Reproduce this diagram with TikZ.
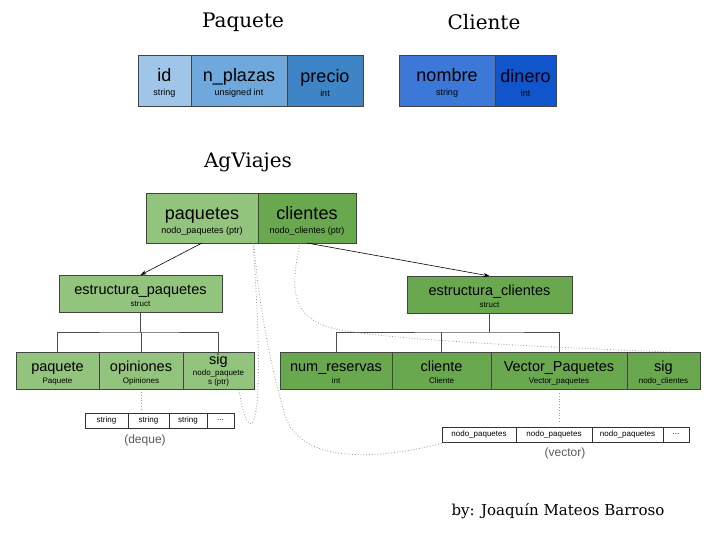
\documentclass[tikz,border=0pt]{standalone}
\usepackage{fontspec}
\setmainfont{Liberation Sans}
\newfontfamily\titulofont{DejaVu Serif}
\usetikzlibrary{positioning,arrows.meta}

\definecolor{azulA}{HTML}{9FC5E8}
\definecolor{azulB}{HTML}{6FA8DC}
\definecolor{azulC}{HTML}{3D85C6}
\definecolor{azulD}{HTML}{3C78D8}
\definecolor{azulE}{HTML}{1155CC}
\definecolor{verdeA}{HTML}{93C47D}
\definecolor{verdeB}{HTML}{6AA84F}
\definecolor{borde}{HTML}{434343}
\definecolor{punto}{HTML}{8FA382}

% campo con nombre y tipo
\newcommand{\campog}[2]{\rule{0pt}{18.5pt}#1\\{\fontsize{9}{10}\selectfont #2}}
\newcommand{\campo}[2]{\rule{0pt}{15pt}#1\\{\fontsize{8}{9}\selectfont #2}}

\tikzset{
  celda/.style={draw=borde, line width=0.8pt, inner sep=0pt, outer sep=0pt, align=center},
  grande/.style={celda, minimum height=51pt, font=\fontsize{18}{14}\selectfont},
  media/.style={celda, minimum height=37pt, font=\fontsize{14.5}{12}\selectfont},
  lista/.style={celda, draw=black!80, line width=0.6pt, minimum height=15pt, font=\fontsize{8}{9}\selectfont},
  titulo/.style={font=\titulofont\fontsize{20}{24}\selectfont},
  nota/.style={font=\fontsize{12}{14}\selectfont, text=black!65},
  puntos/.style={dotted, line width=0.8pt, draw=punto},
  rama/.style={draw=black!70, line width=0.6pt},
  flecha/.style={-{Stealth[length=6pt,width=4pt]}, line width=0.6pt}
}

\begin{document}
\begin{tikzpicture}[x=1pt,y=-1pt]
\useasboundingbox (0,0) rectangle (712,551);

% Paquete
\node[titulo] (tpaquete) at (243,22) {Paquete};
\node[grande, fill=azulA, minimum width=53pt, anchor=north west] (id) at (138,55) {\campog{id}{string}};
\node[grande, fill=azulB, minimum width=96pt, right=0pt of id] (nplazas) {\campog{n\_plazas}{unsigned int}};
\node[grande, fill=azulC, minimum width=76pt, right=0pt of nplazas] (precio) {\campog{precio}{int}};

% Cliente
\node[titulo] (tcliente) at (484,22) {Cliente};
\node[grande, fill=azulD, minimum width=96pt, anchor=north west] (nombre) at (399,55) {\campog{nombre}{string}};
\node[grande, fill=azulE, minimum width=61pt, right=0pt of nombre] (dinero) {\campog{dinero}{int}};

% AgViajes
\node[titulo] (tagviajes) at (248,162) {AgViajes};
\node[grande, fill=verdeA, minimum width=112pt, minimum height=50pt, anchor=north west] (paquetes) at (146,193) {\campog{paquetes}{nodo\_paquetes (ptr)}};
\node[grande, fill=verdeB, minimum width=98pt, minimum height=50pt, right=0pt of paquetes] (clientes) {\campog{clientes}{nodo\_clientes (ptr)}};

\node[media, fill=verdeA, minimum width=163pt, anchor=north west] (estpaq) at (59,275) {\campo{estructura\_paquetes}{struct}};
\node[media, fill=verdeB, minimum width=165pt, anchor=north west] (estcli) at (407,276) {\campo{estructura\_clientes}{struct}};

\draw[flecha] (paquetes.south) -- (estpaq.north);
\draw[flecha] (clientes.south) -- (estcli.north);

% campos de los nodos
\node[media, fill=verdeA, minimum width=83pt, anchor=north west] (paquete) at (16,352) {\campo{paquete}{Paquete}};
\node[media, fill=verdeA, minimum width=84pt, right=0pt of paquete] (opiniones) {\campo{opiniones}{Opiniones}};
\node[media, fill=verdeA, minimum width=71pt, right=0pt of opiniones] (sigpaq) {sig\\[-1pt]{\fontsize{8}{9}\selectfont nodo\_paquete}\\[-3pt]{\fontsize{8}{9}\selectfont s (ptr)}};

\node[media, fill=verdeB, minimum width=112pt, anchor=north west] (numres) at (280,352) {\campo{num\_reservas}{int}};
\node[media, fill=verdeB, minimum width=99pt, right=0pt of numres] (cliente) {\campo{cliente}{Cliente}};
\node[media, fill=verdeB, minimum width=136pt, right=0pt of cliente] (vecpaq) {\campo{Vector\_Paquetes}{Vector\_paquetes}};
\node[media, fill=verdeB, minimum width=73pt, right=0pt of vecpaq] (sigcli) {\campo{sig}{nodo\_clientes}};

\draw[rama] (estpaq.south) -- ++(0,20) coordinate (bpaq);
\draw[rama] (paquete.north) |- (bpaq) -| (sigpaq.north);
\draw[rama] (opiniones.north) -- (opiniones.north |- bpaq);
\draw[rama] (estcli.south) -- ++(0,19) coordinate (bcli);
\draw[rama] (numres.north) |- (bcli) -| (vecpaq.north);
\draw[rama] (cliente.north) -- (cliente.north |- bcli);

% deque
\node[lista, minimum width=43pt, anchor=north west] (dq1) at (85,413) {string};
\node[lista, minimum width=41pt, right=0pt of dq1] (dq2) {string};
\node[lista, minimum width=38pt, right=0pt of dq2] (dq3) {string};
\node[lista, minimum width=27pt, right=0pt of dq3] (dq4) {...};
\node[nota] (tdeque) at (145,440) {(deque)};

% vector
\node[lista, minimum width=74pt, anchor=north west] (vc1) at (442,427) {nodo\_paquetes};
\node[lista, minimum width=76pt, right=0pt of vc1] (vc2) {nodo\_paquetes};
\node[lista, minimum width=71pt, right=0pt of vc2] (vc3) {nodo\_paquetes};
\node[lista, minimum width=26pt, right=0pt of vc3] (vc4) {...};
\node[nota] (tvector) at (565,453) {(vector)};

% punteros
\draw[puntos, shorten <=3pt, shorten >=2pt] (opiniones.south) -- (opiniones.south |- dq2.north);
\draw[puntos, shorten <=4pt, shorten >=4pt] (vecpaq.south) -- (vecpaq.south |- vc2.north);
\draw[puntos] ([xshift=20pt,yshift=2pt]sigpaq.south) .. controls (248,450) and (268,450) .. ([xshift=-5pt]paquetes.south east);
\draw[puntos] ([xshift=5pt]vc1.south west) .. controls (380,460) and (300,465) .. (285,415)
  .. controls (270,365) and (258,300) .. ([xshift=-4pt]paquetes.south east);
\draw[puntos] ([xshift=6pt]sigcli.north) .. controls (520,346) and (400,340) .. (340,330)
  .. controls (290,320) and (290,290) .. ([xshift=-7pt]clientes.south);

\node[font=\titulofont\fontsize{15}{18}\selectfont] (autor) at (558,511) {by: Joaquín Mateos Barroso};
\end{tikzpicture}
\end{document}
